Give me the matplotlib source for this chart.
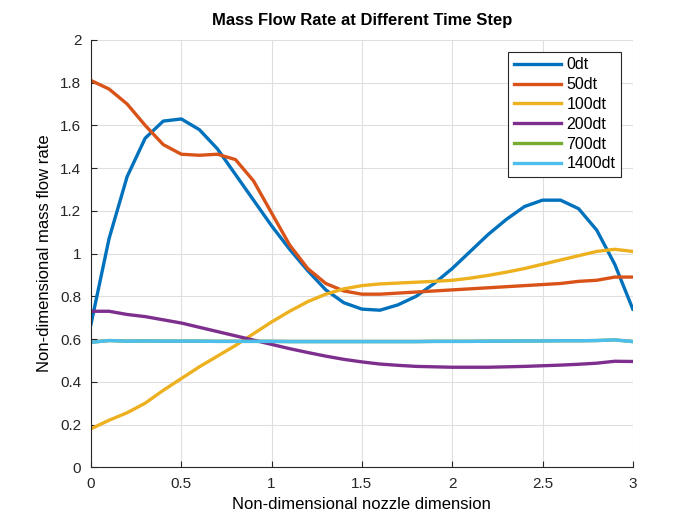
import numpy as np
import matplotlib
matplotlib.use("Agg")
import matplotlib.pyplot as plt

x = np.round(np.arange(0, 3.01, 0.1), 1)

flow_0dt = [0.67, 1.07, 1.36, 1.54, 1.62, 1.63, 1.58, 1.49, 1.37, 1.25,
            1.13, 1.02, 0.92, 0.83, 0.77, 0.74, 0.735, 0.76, 0.80, 0.86,
            0.93, 1.01, 1.09, 1.16, 1.22, 1.25, 1.25, 1.21, 1.11, 0.95, 0.74]
flow_50dt = [1.81, 1.77, 1.70, 1.60, 1.51, 1.465, 1.46, 1.465, 1.44, 1.34,
             1.19, 1.04, 0.93, 0.86, 0.825, 0.81, 0.81, 0.815, 0.82, 0.825,
             0.83, 0.835, 0.84, 0.845, 0.85, 0.855, 0.86, 0.87, 0.875, 0.89, 0.89]
flow_100dt = [0.18, 0.22, 0.255, 0.30, 0.36, 0.415, 0.47, 0.52, 0.57, 0.625,
              0.68, 0.73, 0.775, 0.81, 0.835, 0.85, 0.858, 0.862, 0.866, 0.87,
              0.875, 0.885, 0.898, 0.913, 0.93, 0.95, 0.97, 0.99, 1.01, 1.02, 1.01]
flow_200dt = [0.73, 0.73, 0.715, 0.705, 0.69, 0.675, 0.655, 0.635, 0.615, 0.595,
              0.575, 0.555, 0.537, 0.52, 0.505, 0.493, 0.483, 0.477, 0.472, 0.47,
              0.468, 0.468, 0.468, 0.47, 0.472, 0.475, 0.478, 0.482, 0.487, 0.496, 0.495]
flow_700dt = [0.585, 0.593, 0.59, 0.591, 0.59, 0.59, 0.59, 0.589, 0.589, 0.589,
              0.589, 0.588, 0.588, 0.588, 0.588, 0.588, 0.588, 0.588, 0.588, 0.589,
              0.589, 0.589, 0.59, 0.59, 0.591, 0.591, 0.592, 0.592, 0.593, 0.596, 0.588]
flow_1400dt = [0.585, 0.593, 0.59, 0.591, 0.59, 0.59, 0.59, 0.589, 0.589, 0.589,
               0.589, 0.588, 0.588, 0.588, 0.588, 0.588, 0.588, 0.588, 0.588, 0.589,
               0.589, 0.589, 0.59, 0.59, 0.591, 0.591, 0.592, 0.592, 0.593, 0.596, 0.588]

labels = ["0dt", "50dt", "100dt", "200dt", "700dt", "1400dt"]
colors = ["#0072BD", "#D95319", "#EDB120", "#7E2F8E", "#77AC30", "#4DBEEE"]

plt.rcParams['font.family'] = ['Liberation Sans', 'DejaVu Sans']

fig = plt.figure(figsize=(7, 5.25), dpi=100)
ax = fig.add_axes([0.13, 0.11, 0.774, 0.814])

series = [flow_0dt, flow_50dt, flow_100dt, flow_200dt, flow_700dt, flow_1400dt]
for y, lab, c in zip(series, labels, colors):
    ax.plot(x, y, color=c, linewidth=2.4, label=lab)

ax.set_xlim(0, 3)
ax.set_ylim(0, 2)
ax.set_xticks([0, 0.5, 1, 1.5, 2, 2.5, 3])
ax.set_xticklabels(["0", "0.5", "1", "1.5", "2", "2.5", "3"])
ax.set_yticks(np.arange(0, 2.01, 0.2))
ax.set_yticklabels(["0", "0.2", "0.4", "0.6", "0.8", "1", "1.2", "1.4", "1.6", "1.8", "2"])
ax.grid(True, color="#DFDFDF", linewidth=0.8)
ax.set_axisbelow(True)
ax.tick_params(direction="in", length=4, labelsize=11, colors="#262626", pad=7)
for s in ["top", "right"]:
    ax.spines[s].set_visible(False)
for s in ["left", "bottom"]:
    ax.spines[s].set_color("#262626")

ax.set_title("Mass Flow Rate at Different Time Step", fontsize=12, fontweight="bold", pad=11)
ax.set_xlabel("Non-dimensional nozzle dimension", fontsize=12, labelpad=4)
ax.set_ylabel("Non-dimensional mass flow rate", fontsize=12, labelpad=6)

leg = ax.legend(loc="upper right", bbox_to_anchor=(0.978, 0.972), borderaxespad=0,
                fontsize=11.5, fancybox=False, framealpha=1, edgecolor="#262626",
                handlelength=3.0, handletextpad=0.3, labelspacing=0.3,
                borderpad=0.35)
leg.get_frame().set_linewidth(0.8)

fig.savefig("out.png", dpi=100)
